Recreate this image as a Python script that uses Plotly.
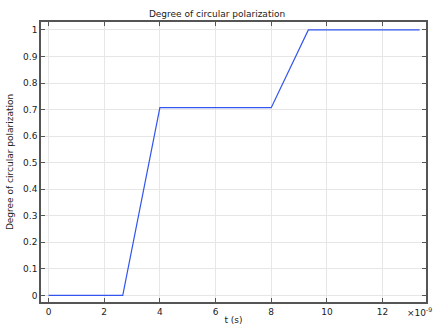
import plotly.graph_objects as go

t_ns = [0, 2.667, 4.0, 8.0, 9.333, 13.333]
dcp = [0, 0, 0.7071, 0.7071, 1.0, 1.0]
xticks = [0, 2, 4, 6, 8, 10, 12]
yticks = [0, 0.1, 0.2, 0.3, 0.4, 0.5, 0.6, 0.7, 0.8, 0.9, 1]

t_s = [v * 1e-9 for v in t_ns]

fig = go.Figure()
fig.add_trace(go.Scatter(x=t_s, y=dcp, mode="lines",
                         line=dict(color="#3355ee", width=1.2), showlegend=False))

axis_common = dict(showline=True, linecolor="#555555", linewidth=1.5, mirror="ticks",
                   ticks="inside", ticklen=4, tickcolor="#555555",
                   showgrid=True, gridcolor="#e6e6e6", gridwidth=1, zeroline=False,
                   automargin=False,
                   tickfont=dict(size=9, color="#222222"))

fig.update_layout(
    width=434, height=325,
    margin=dict(l=41, r=8, t=22, b=23),
    paper_bgcolor="white", plot_bgcolor="white",
    font=dict(family="DejaVu Sans", size=9, color="#222222"),
    title=dict(text="Degree of circular polarization", x=0.5, xanchor="center",
               y=1 - 14/325, yanchor="middle", font=dict(size=9)),
    xaxis=dict(range=[-0.27e-9, 13.56e-9], tickvals=[v * 1e-9 for v in xticks],
               ticktext=[str(v) for v in xticks],
               title=dict(text="t (s)", standoff=2, font=dict(size=9)), **axis_common),
    yaxis=dict(range=[-0.025, 1.03], tickvals=yticks,
               ticktext=[("%g" % v) for v in yticks],
               title=dict(text="Degree of circular polarization", standoff=8, font=dict(size=9)),
               **axis_common),
)
fig.add_annotation(text="×10<sup>-9</sup>", xref="paper", yref="paper", x=0.982, y=0,
                   xanchor="center", yanchor="top", yshift=-2, showarrow=False,
                   font=dict(size=9, color="#222222"))

fig.write_html("out.html")
